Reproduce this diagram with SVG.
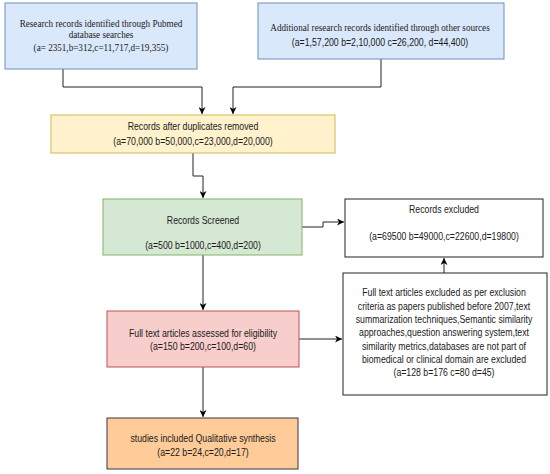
<svg xmlns="http://www.w3.org/2000/svg" width="550" height="474" viewBox="0 0 550 474">
<defs>
<marker id="arr" viewBox="0 0 10 10" refX="10" refY="5" markerWidth="7" markerHeight="7" orient="auto" markerUnits="userSpaceOnUse">
<path d="M0,0 L10,5 L0,10 L3,5 Z" fill="#000"/>
</marker>
</defs>
<style>
.s{font-family:"Liberation Sans",Arial,sans-serif;font-size:10.8px;fill:#1a1a1a;text-anchor:middle}
.t{font-family:"Liberation Serif","Times New Roman",serif;font-size:10.5px;fill:#1a1a1a;text-anchor:middle}
.c{fill:none;stroke:#222;stroke-width:1}
</style>
<rect width="550" height="474" fill="#fff"/>
<g id="connectors">
<path class="c" d="M63,69 V87 H202 V114" marker-end="url(#arr)"/>
<path class="c" d="M381,59 V87 H233 V114" marker-end="url(#arr)"/>
<path class="c" d="M193,153 V176 H203 V198" marker-end="url(#arr)"/>
<path class="c" d="M302,227 H323 V222 H344" marker-end="url(#arr)"/>
<path class="c" d="M203,255 V310" marker-end="url(#arr)"/>
<path class="c" d="M299,339 H342" marker-end="url(#arr)"/>
<path class="c" d="M444,273 V258" marker-end="url(#arr)"/>
<path class="c" d="M203,367 V417" marker-end="url(#arr)"/>
</g>
<g id="pubmed">
<rect x="5" y="3" width="192" height="66" fill="#dae8fc" stroke="#6c8ebf"/>
<g transform="matrix(0.87,0,0,1,101,0)">
<text class="t" x="0" y="27.5">Research records identified through Pubmed</text>
<text class="t" x="0" y="38.5">database searches</text>
<text class="t" x="0" y="51.5">(a= 2351,b=312,c=11,717,d=19,355)</text>
</g>
</g>
<g id="other">
<rect x="258" y="3" width="246" height="56" fill="#dae8fc" stroke="#6c8ebf"/>
<g transform="matrix(0.87,0,0,1,380,0)">
<text class="t" x="0" y="31.5">Additional research records identified through other sources</text>
</g>
<g transform="matrix(0.81,0,0,1,380,0)">
<text class="s" x="0" y="46.5">(a=1,57,200 b=2,10,000 c=26,200, d=44,400)</text>
</g>
</g>
<g id="duplicates">
<rect x="51" y="115" width="284" height="38" fill="#fff2cc" stroke="#d6b656"/>
<g transform="matrix(0.81,0,0,1,193,0)">
<text class="s" x="0" y="130">Records after duplicates removed</text>
<text class="s" x="0" y="145">(a=70,000 b=50,000,c=23,000,d=20,000)</text>
</g>
</g>
<g id="screened">
<rect x="103" y="199" width="199" height="56" fill="#d5e8d4" stroke="#82b366"/>
<g transform="matrix(0.81,0,0,1,203,0)">
<text class="s" x="0" y="224">Records Screened</text>
<text class="s" x="0" y="249">(a=500 b=1000,c=400,d=200)</text>
</g>
</g>
<g id="excluded">
<rect x="345" y="199" width="198" height="58" fill="#fff" stroke="#222"/>
<g transform="matrix(0.81,0,0,1,444,0)">
<text class="s" x="0" y="213">Records excluded</text>
<text class="s" x="0" y="240">(a=69500  b=49000,c=22600,d=19800)</text>
</g>
</g>
<g id="fulltext-excluded">
<rect x="343" y="273" width="204" height="122" fill="#fff" stroke="#222"/>
<g transform="matrix(0.81,0,0,1,444,0)">
<text class="s" x="0" y="296.5">Full text articles excluded as per exclusion</text>
<text class="s" x="0" y="309.8">criteria as papers published before 2007,text</text>
<text class="s" x="0" y="323.1">summarization techniques,Semantic similarity</text>
<text class="s" x="0" y="336.4">approaches,question answering system,text</text>
<text class="s" x="0" y="349.7">similarity metrics,databases  are not part of</text>
<text class="s" x="0" y="363">biomedical or clinical domain are excluded</text>
<text class="s" x="0" y="376.3">(a=128 b=176 c=80 d=45)</text>
</g>
</g>
<g id="eligibility">
<rect x="107" y="311" width="192" height="56" fill="#f8cecc" stroke="#b85450"/>
<g transform="matrix(0.81,0,0,1,203,0)">
<text class="s" x="0" y="337">Full text articles assessed for eligibility</text>
<text class="s" x="0" y="350">(a=150  b=200,c=100,d=60)</text>
</g>
</g>
<g id="included">
<rect x="107" y="418" width="191" height="51" fill="#ffcc99" stroke="#36393d"/>
<g transform="matrix(0.81,0,0,1,203,0)">
<text class="s" x="0" y="442">studies included Qualitative synthesis</text>
<text class="s" x="0" y="456">(a=22  b=24,c=20,d=17)</text>
</g>
</g>
</svg>
